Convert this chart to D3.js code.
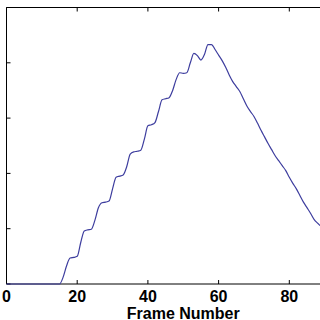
<!DOCTYPE html>
<html>
<head>
<meta charset="utf-8">
<script src="https://cdn.jsdelivr.net/npm/d3@7"></script>
<style>
  html, body { margin: 0; padding: 0; background: #fff; overflow: hidden; }
  svg { display: block; }
</style>
</head>
<body>
<div id="chart"></div>
<script>
// values per frame, index = frame number
const values = [
  0, 0, 0, 0, 0, 0, 0, 0, 0, 0,
  0, 0, 0, 0, 0, 0, 0.12, 0.33, 0.47, 0.48,
  0.50, 0.75, 0.96, 0.98, 0.99, 1.15, 1.38, 1.47, 1.48, 1.50,
  1.72, 1.93, 1.95, 1.97, 2.12, 2.35, 2.39, 2.40, 2.42, 2.62,
  2.86, 2.88, 2.92, 3.12, 3.33, 3.35, 3.37, 3.50, 3.70, 3.82,
  3.81, 3.82, 4.00, 4.17, 4.13, 4.05, 4.15, 4.33, 4.33, 4.24,
  4.14, 4.04, 3.92, 3.78, 3.66, 3.57, 3.48, 3.35, 3.22, 3.12,
  3.03, 2.91, 2.78, 2.66, 2.54, 2.43, 2.32, 2.23, 2.14, 2.05,
  1.93, 1.82, 1.72, 1.60, 1.48, 1.38, 1.28, 1.17, 1.10, 1.04,
  0.98
]
const xTicks = [0, 20, 40, 60, 80, 100]
const xTickLabels = [0, 20, 40, 60, 80] // 100 lies beyond the picture's edge
const yTicks = [0, 1, 2, 3, 4, 5]
const xLabel = 'Frame Number'

const width = 320
const height = 320
const margin = { left: 6.5, top: 7.5, bottom: 36 }
const plotW = 353.5 // axis runs past the right edge of the picture

const svg = d3.select('#chart')
  .append('svg')
    .attr('width', width)
    .attr('height', height)

const x = d3.scaleLinear().domain([0, 100]).range([margin.left, margin.left + plotW])
const y = d3.scaleLinear().domain([0, 5]).range([height - margin.bottom, margin.top])

// box frame
const frame = svg.append('g').attr('stroke', '#000').attr('stroke-width', 1).attr('fill', 'none')
frame.append('line').attr('x1', x(0)).attr('x2', x(100)).attr('y1', y(0)).attr('y2', y(0))
frame.append('line').attr('x1', x(0)).attr('x2', x(100)).attr('y1', y(5)).attr('y2', y(5))
frame.append('line').attr('x1', x(0)).attr('x2', x(0)).attr('y1', y(0)).attr('y2', y(5))

// inward ticks
const tickLen = 4
const ticks = svg.append('g').attr('stroke', '#000').attr('stroke-width', 1)
ticks.selectAll('.tb').data(xTicks).join('line')
  .attr('x1', d => x(d)).attr('x2', d => x(d))
  .attr('y1', y(0)).attr('y2', y(0) - tickLen)
ticks.selectAll('.tt').data(xTicks).join('line')
  .attr('x1', d => x(d)).attr('x2', d => x(d))
  .attr('y1', y(5)).attr('y2', y(5) + tickLen)
ticks.selectAll('.tl').data(yTicks).join('line')
  .attr('x1', x(0)).attr('x2', x(0) + tickLen)
  .attr('y1', d => y(d)).attr('y2', d => y(d))

// x tick labels
svg.append('g').selectAll('text').data(xTickLabels).join('text')
  .attr('x', d => x(d))
  .attr('y', 301.5)
  .attr('text-anchor', 'middle')
  .attr('font-family', 'Liberation Sans, Arial, sans-serif')
  .attr('font-weight', 'bold')
  .attr('font-size', 16)
  .text(d => d)

svg.append('text')
  .attr('x', (x(0) + x(100)) / 2)
  .attr('y', 319)
  .attr('text-anchor', 'middle')
  .attr('font-family', 'Liberation Sans, Arial, sans-serif')
  .attr('font-weight', 'bold')
  .attr('font-size', 16)
  .text(xLabel)

// data line
const line = d3.line()
  .x((d, i) => x(i))
  .y(d => y(d))
  .curve(d3.curveMonotoneX)

svg.append('path')
  .datum(values)
  .attr('fill', 'none')
  .attr('stroke', '#3d3d9e')
  .attr('stroke-width', 1.2)
  .attr('d', line)
</script>
</body>
</html>
